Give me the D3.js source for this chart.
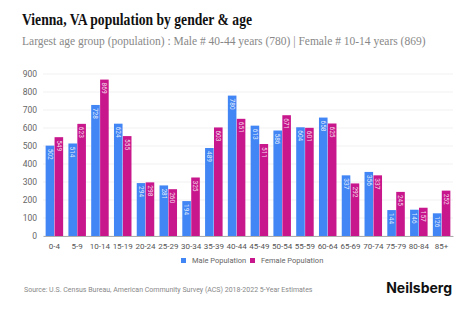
<!DOCTYPE html>
<html>
<head>
<meta charset="utf-8">
<script src="https://cdn.jsdelivr.net/npm/d3@7"></script>
<style>
  body { margin: 0; background: #fff; }
  svg { display: block; }
</style>
</head>
<body>
<svg width="474" height="316"></svg>
<script>
// age groups and population by gender
var ageGroups = ["0-4", "5-9", "10-14", "15-19", "20-24", "25-29", "30-34", "35-39", "40-44",
                 "45-49", "50-54", "55-59", "60-64", "65-69", "70-74", "75-79", "80-84", "85+"];
var malePop   = [502, 514, 728, 624, 294, 281, 194, 489, 780, 613, 586, 604, 658, 337, 356, 144, 146, 126];
var femalePop = [549, 623, 869, 555, 298, 260, 325, 603, 651, 511, 671, 601, 625, 292, 337, 245, 157, 252];
var seriesNames = ["Male Population", "Female Population"];
var yTicks = [0, 100, 200, 300, 400, 500, 600, 700, 800, 900];

var svg = d3.select("svg"),
    margin = {top: 74, right: 21, bottom: 80, left: 43},
    width = +svg.attr("width") - margin.left - margin.right,
    height = +svg.attr("height") - margin.top - margin.bottom,
    g = svg.append("g").attr("transform", "translate(" + margin.left + "," + margin.top + ")");

var data = ageGroups.map(function(a, i) {
  return {age: a, values: [{key: seriesNames[0], value: malePop[i]}, {key: seriesNames[1], value: femalePop[i]}]};
});

var x0 = d3.scaleBand().domain(ageGroups).range([0, width]).paddingInner(0.2).paddingOuter(0.1);
var x1 = d3.scaleBand().domain(seriesNames).range([0, x0.bandwidth()]).padding(0.04);
var y = d3.scaleLinear().domain([0, 900]).range([height, 0]);
var color = d3.scaleOrdinal().domain(seriesNames).range(["#4285f4", "#c8168c"]);

// title
svg.append("text")
    .attr("x", 22).attr("y", 25)
    .attr("font-family", "'Liberation Serif', serif")
    .attr("font-weight", "bold")
    .attr("font-size", 17)
    .attr("textLength", 230)
    .attr("lengthAdjust", "spacingAndGlyphs")
    .attr("fill", "#111")
    .text("Vienna, VA population by gender & age");

svg.append("text")
    .attr("x", 22).attr("y", 45)
    .attr("font-family", "'Liberation Serif', serif")
    .attr("font-size", 11.5)
    .attr("fill", "#888")
    .text("Largest age group (population) : Male # 40-44 years (780) | Female # 10-14 years (869)");

// grid
g.append("g")
  .selectAll("line")
  .data(yTicks)
  .enter().append("line")
    .attr("x1", 0).attr("x2", width)
    .attr("y1", function(d) { return y(d); })
    .attr("y2", function(d) { return y(d); })
    .attr("stroke", "#eee")
    .attr("stroke-width", 0.8);

// y axis
var yAxis = g.append("g")
    .call(d3.axisLeft(y).tickValues(yTicks).tickSize(0).tickPadding(6));
yAxis.select(".domain").remove();
yAxis.selectAll("text")
    .attr("font-family", "Roboto, sans-serif")
    .attr("font-size", 8.5)
    .attr("fill", "#666");

// bars
var groups = g.append("g")
  .selectAll("g")
  .data(data)
  .enter().append("g")
    .attr("transform", function(d) { return "translate(" + x0(d.age) + ",0)"; });

groups.selectAll("rect")
  .data(function(d) { return d.values; })
  .enter().append("rect")
    .attr("x", function(d) { return x1(d.key); })
    .attr("y", function(d) { return y(d.value); })
    .attr("width", x1.bandwidth())
    .attr("height", function(d) { return height - y(d.value); })
    .attr("fill", function(d) { return color(d.key); });

// value labels inside bars, rotated
groups.selectAll("text")
  .data(function(d) { return d.values; })
  .enter().append("text")
    .attr("transform", function(d) {
      return "translate(" + (x1(d.key) + x1.bandwidth() / 2) + "," + (y(d.value) + 3) + ") rotate(90)";
    })
    .attr("dy", "0.35em")
    .attr("font-family", "Roboto, sans-serif")
    .attr("font-size", 6.5)
    .attr("fill", "#fff")
    .attr("fill-opacity", 0.85)
    .text(function(d) { return d.value; });

// x axis
var xAxis = g.append("g")
    .attr("transform", "translate(0," + height + ")")
    .call(d3.axisBottom(x0).tickSize(0).tickPadding(7));
xAxis.select(".domain").attr("stroke", "#999").attr("stroke-width", 0.8);
xAxis.selectAll("text")
    .attr("font-family", "Roboto, sans-serif")
    .attr("font-size", 8)
    .attr("fill", "#555");

// legend
var legend = svg.append("g")
  .selectAll("g")
  .data(seriesNames)
  .enter().append("g")
    .attr("transform", function(d, i) { return "translate(" + (181 + i * 69) + ",263)"; });

legend.append("rect")
    .attr("y", -5)
    .attr("width", 5).attr("height", 5)
    .attr("fill", color);

legend.append("text")
    .attr("x", 11).attr("y", 0)
    .attr("font-family", "Roboto, sans-serif")
    .attr("font-size", 7.5)
    .attr("fill", "#666")
    .text(function(d) { return d; });

// footer
svg.append("text")
    .attr("x", 24).attr("y", 292)
    .attr("font-family", "Roboto, sans-serif")
    .attr("font-size", 7)
    .attr("fill", "#888")
    .text("Source: U.S. Census Bureau, American Community Survey (ACS) 2018-2022 5-Year Estimates");

svg.append("text")
    .attr("x", 452).attr("y", 293)
    .attr("text-anchor", "end")
    .attr("font-family", "Inter, Roboto, sans-serif")
    .attr("font-weight", "bold")
    .attr("font-size", 14)
    .attr("fill", "#111")
    .text("Neilsberg");
</script>
</body>
</html>
